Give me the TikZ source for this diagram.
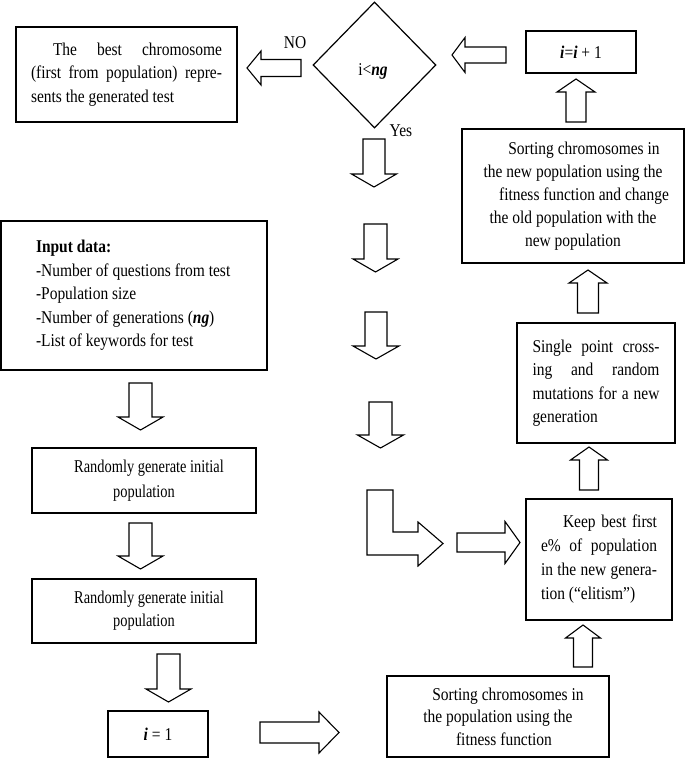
\documentclass[tikz,border=0pt]{standalone}
\usepackage{fontspec}
\setmainfont{Liberation Serif}[FakeStretch=0.86]
\newfontfamily\narrowrd{Liberation Serif}[FakeStretch=0.80]
\usetikzlibrary{shapes.geometric}
\newcommand{\fsz}[1]{\fontsize{18}{#1}\selectfont}
\newcommand{\jl}[2]{\makebox[#1][s]{#2}}
\newcommand{\bi}[1]{\textbf{\textit{#1}}}
% block arrow: #1 tail centre, #2 angle, #3 length, #4 head length, #5 shaft half width, #6 head half width
\newcommand{\barr}[6]{%
  \draw[blk, shift={#1}, rotate=#2] (0,-#5) -- ({#3-#4},-#5) -- ({#3-#4},-#6) -- (#3,0)
     -- ({#3-#4},#6) -- ({#3-#4},#5) -- (0,#5) -- cycle;}
\tikzset{
  box/.style={draw, line width=1.3pt, inner sep=0pt, fill=white},
  blk/.style={draw, line width=1.1pt, fill=white, line join=miter},
  lbl/.style={inner sep=0pt, font=\fsz{22}},
}
\begin{document}
\begin{tikzpicture}[x=1pt,y=-1pt]
\useasboundingbox (0,0) rectangle (685,759);
\fill[white] (0,0) rectangle (685,759);

% ---------- boxes ----------
\node[box, minimum width=221pt, minimum height=95pt] (best) at (126.5,74.5)
  {\parbox{191pt}{\fsz{23.5}\jl{191pt}{\hspace*{22pt}The best chromosome}\\
   \jl{191pt}{(first from population) repre-}\\
   sents the generated test}};

\node[box, minimum width=110pt, minimum height=42pt, font=\fsz{22}] (inc) at (581,52)
  {\bi{i}=\bi{i} + 1};

\node[box, minimum width=222pt, minimum height=134pt] (sortnew) at (573,196)
  {\parbox{222pt}{\fsz{23}\centering
   \hspace*{22pt}Sorting chromosomes in\\
   the new population using the\\
   \hspace*{22pt}fitness function and change\\
   the old population with the\\
   new population}};

\node[box, minimum width=158pt, minimum height=120pt] (single) at (596,383)
  {\parbox{127pt}{\fsz{23.5}\jl{127pt}{Single point cross-}\\
   \jl{127pt}{ing and random}\\
   \jl{127pt}{mutations for a new}\\
   generation}};

\node[box, minimum width=146pt, minimum height=121pt] (keep) at (599,559.5)
  {\parbox{116pt}{\fsz{24}\jl{116pt}{\hspace*{22pt}Keep best first}\\
   \jl{116pt}{e\% of population}\\
   \jl{116pt}{in the new genera-}\\
   tion (“elitism”)}};

\node[box, minimum width=222pt, minimum height=81pt] (sortbot) at (498,716.5)
  {\parbox{222pt}{\fsz{22.5}\centering
   \hspace*{20pt}Sorting chromosomes in\\
   the population using the\\
   \hspace*{12pt}fitness function}};

\node[box, minimum width=266pt, minimum height=149pt] (input) at (134,295.5)
  {\parbox{196pt}{\fsz{23.5}\textbf{Input data:}\\
   -Number of questions from test\\
   -Population size\\
   -Number of generations (\bi{ng})\\
   -List of keywords for test}};

\node[box, minimum width=224pt, minimum height=65pt] (rand1) at (144,480.5)
  {\parbox{224pt}{\narrowrd\fsz{25}\centering
   \hspace*{10pt}Randomly generate initial\\ population}};

\node[box, minimum width=224pt, minimum height=64pt] (rand2) at (144,611)
  {\parbox{224pt}{\narrowrd\fsz{23}\centering
   \hspace*{10pt}Randomly generate initial\\ population}};

\node[box, minimum width=100pt, minimum height=46pt, font=\fsz{22}] (one) at (158,734)
  {\bi{i} = 1};

% ---------- decision ----------
\node[draw, diamond, line width=1.2pt, minimum width=123pt, minimum height=126pt,
      inner sep=0pt] (cond) at (374.5,65) {};
\node[lbl] (condtxt) at (373,71) {i<\bi{ng}};
\node[lbl] (no) at (295,43) {NO};
\node[lbl] (yes) at (401,131) {Yes};

% ---------- block arrows ----------
\barr{(301,68)}{180}{54}{14}{8.5}{17}
\barr{(506,55)}{180}{54}{13}{8}{17.5}
\barr{(576,122)}{90}{43}{13}{10}{19}
\barr{(588,313)}{90}{43}{13}{10.5}{19}
\barr{(589,490)}{90}{43}{13}{9.5}{18.5}
\barr{(583,667)}{90}{42}{13}{9.5}{17.5}

\barr{(374,139)}{-90}{48}{13}{11}{22.5}
\barr{(375.5,224)}{-90}{48}{13}{11.5}{22.5}
\barr{(376,312)}{-90}{47}{13}{11}{23}
\barr{(380.5,402)}{-90}{46}{13}{11.5}{23}

\barr{(457,542.5)}{0}{63}{15}{9.5}{21}
\barr{(260,732.5)}{0}{79}{20}{10.5}{20.5}

\barr{(140.5,383)}{-90}{47}{13}{11.5}{22.5}
\barr{(140.5,523)}{-90}{46}{13}{11.5}{22.5}
\barr{(168.5,654)}{-90}{48}{13}{11.5}{22.5}

% L-shaped arrow
\draw[blk] (367,490) -- (393,490) -- (393,532) -- (418,532) -- (418,522) -- (443,543.5)
  -- (418,566) -- (418,555) -- (367,555) -- cycle;
\end{tikzpicture}
\end{document}
